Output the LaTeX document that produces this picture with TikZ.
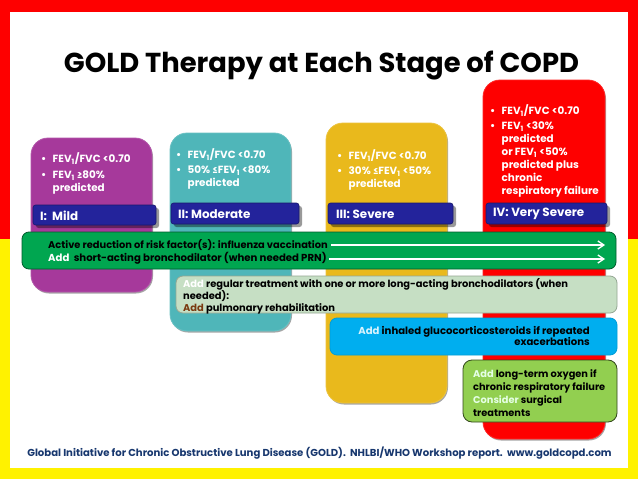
\documentclass[tikz,border=0pt]{standalone}
\usepackage{fontspec}
\setmainfont{Poppins}
\usetikzlibrary{shadows,arrows.meta}
\definecolor{cPurple}{HTML}{A6399B}
\definecolor{cTeal}{HTML}{4FB6B9}
\definecolor{cYellow}{HTML}{E9B91C}
\definecolor{cRed}{HTML}{FE0000}
\definecolor{cNavy}{HTML}{23239B}
\definecolor{cGreen}{HTML}{00A650}
\definecolor{cPale}{HTML}{C6DFC4}
\definecolor{cSky}{HTML}{00AEEF}
\definecolor{cLime}{HTML}{92CF50}
\definecolor{cFoot}{HTML}{17376E}
\definecolor{cBrown}{HTML}{7A3A10}
\newcommand{\bul}{\makebox[11.5pt][l]{\textbullet}}
\newcommand{\ind}{\hspace*{11.5pt}}
\newcommand{\sbs}[1]{\textsubscript{#1}}
\tikzset{
  x=1pt,y=-1pt,
  stagebox/.style={rounded corners=17pt,draw=#1!85!white,line width=.8pt,fill=#1,
    drop shadow={shadow xshift=1pt,shadow yshift=-1.5pt,opacity=.35,fill=black}},
  label bar/.style={rounded corners=2.5pt,draw=cNavy!70!black,line width=.6pt,fill=cNavy,
    drop shadow={shadow xshift=3pt,shadow yshift=-3pt,opacity=.4,fill=black}},
  bar/.style={rounded corners=7pt,line width=.8pt},
  stagetext/.style={anchor=north west,inner sep=0pt,align=left,text=white,font=\fontsize{10.4pt}{13pt}\selectfont\bfseries},
  labeltext/.style={anchor=west,inner sep=0pt,text=white,font=\fontsize{11.9pt}{13pt}\selectfont\bfseries},
  bartext/.style={anchor=north west,inner sep=0pt,align=left,text=black,font=\fontsize{9.9pt}{12pt}\selectfont\bfseries},
  lifearrow/.style={draw=white,line width=1.3pt,-{Straight Barb[length=6pt,width=8pt]}},
}
\begin{document}
\begin{tikzpicture}
\useasboundingbox (0,0) rectangle (638,479);
\fill[cRed] (0,0) rectangle (638,239);
\fill[yellow] (0,239) rectangle (638,479);
\fill[white] (10,12) rectangle (628,468);
\node[anchor=base,inner sep=0pt,font=\fontsize{27.4pt}{30pt}\selectfont\bfseries] (title) at (321.5,72) {GOLD Therapy at Each Stage of COPD};
\draw[stagebox=cPurple] (31,138) rectangle (152,292);
\draw[stagebox=cTeal] (170,133) rectangle (291,331);
\draw[stagebox=cYellow] (326,123) rectangle (447,403);
\draw[stagebox=cRed] (483,80) rectangle (605,439);
\node[stagetext] (t1) at (41,152.5) {\bul FEV\sbs{1}/FVC <0.70\\[3pt]\bul FEV\sbs{1} ≥80\%\\\ind predicted};
\node[stagetext] (t2) at (176,148.5) {\bul FEV\sbs{1}/FVC <0.70\\[2pt]\bul 50\% ≤FEV\sbs{1} <80\%\\\ind predicted};
\node[stagetext] (t3) at (337,149.5) {\bul FEV\sbs{1}/FVC <0.70\\[2pt]\bul 30\% ≤FEV\sbs{1} <50\%\\\ind predicted};
\node[stagetext] (t4) at (490,104.5) {\bul FEV\sbs{1}/FVC <0.70\\[2pt]\bul FEV\sbs{1} <30\%\\\ind predicted\\\ind or FEV\sbs{1} <50\%\\\ind predicted plus\\\ind chronic\\\ind respiratory failure};
\draw[label bar] (33,205) rectangle (156,225);
\draw[label bar] (171,203) rectangle (299,224);
\draw[label bar] (328,203) rectangle (453,224);
\draw[label bar] (486,203) rectangle (607,224);
\node[labeltext] (l1) at (40,216) {I:\ \ Mild};
\node[labeltext] (l2) at (178,214) {II: Moderate};
\node[labeltext] (l3) at (336,214) {III: Severe};
\node[labeltext] (l4) at (493,214) {IV: Very Severe};
\draw[bar,fill=cGreen,draw=cGreen!55!black] (22,232) rectangle (616,269);
\node[bartext,font=\fontsize{9.85pt}{13pt}\selectfont\bfseries] (g1) at (48,239) {Active reduction of risk factor(s): influenza vaccination\\\fontsize{10.15pt}{13pt}\selectfont\textcolor{white}{Add}\ \ short-acting bronchodilator (when needed PRN)};
\coordinate (a1s) at (331,245); \coordinate (a1e) at (605,245);
\coordinate (a2s) at (329,259); \coordinate (a2e) at (605,259);
\draw[lifearrow] (a1s) -- (a1e);
\draw[lifearrow] (a2s) -- (a2e);
\draw[bar,fill=cPale,draw=cPale!75!black] (176,276) rectangle (617,313);
\node[bartext] (p1) at (183,278) {\textcolor{white}{Add} regular treatment with one or more long-acting bronchodilators (when\\needed):\\\textcolor{cBrown}{Add} pulmonary rehabilitation};
\draw[bar,fill=cSky,draw=cSky!90!black] (330,318) rectangle (617,355);
\node[anchor=north east,inner sep=0pt,align=right,text=black,font=\fontsize{10.1pt}{11pt}\selectfont\bfseries] (s1) at (590,326.5) {\textcolor{cyan!15}{Add} inhaled glucocorticosteroids if repeated\\exacerbations};
\draw[bar,fill=cLime,draw=cLime!35!black,rounded corners=9pt] (463,360) rectangle (617,422);
\node[bartext,font=\fontsize{9.8pt}{13pt}\selectfont\bfseries] (o1) at (473,369) {\textcolor{green!10}{Add} long-term oxygen if\\chronic respiratory failure\\\textcolor{green!10}{Consider} surgical\\treatments};
\node[anchor=base,inner sep=0pt,text=cFoot,font=\fontsize{10.1pt}{11pt}\selectfont\bfseries] (foot) at (319.5,456) {Global Initiative for Chronic Obstructive Lung Disease (GOLD).\ \ NHLBI/WHO Workshop report.\ \ www.goldcopd.com};
\end{tikzpicture}
\end{document}
